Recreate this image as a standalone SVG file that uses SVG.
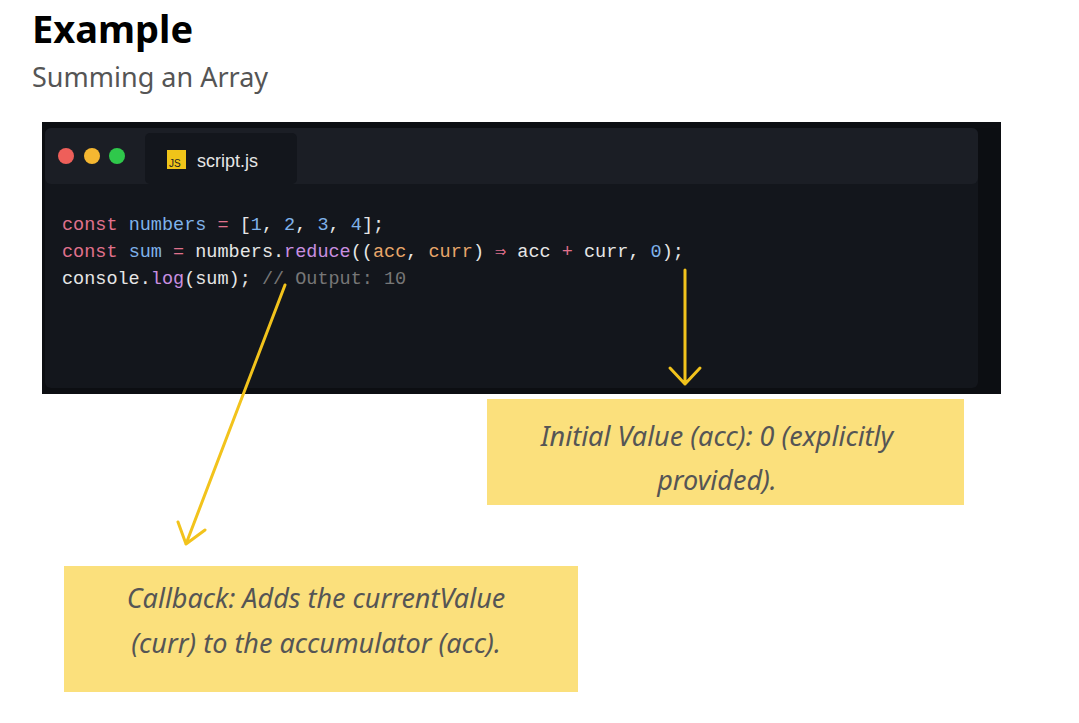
<svg xmlns="http://www.w3.org/2000/svg" width="1079" height="723" viewBox="0 0 1079 723">
<style>
.c{font-family:"Liberation Mono",monospace;font-size:18.5px}
.lbl{font-family:"Noto Sans","Open Sans",sans-serif;font-style:italic;font-size:27px;fill:#555}
.box{fill:#fbe07c}
.arr{stroke:#f2c31c;stroke-width:3;fill:none;stroke-linecap:round;stroke-linejoin:round}
</style>
<rect width="1079" height="723" fill="#fff"/>
<text x="32" y="43" font-family="Noto Sans,sans-serif" font-weight="bold" font-size="38" fill="#000">Example</text>
<text x="32" y="87" font-family="Noto Sans,sans-serif" font-size="27" fill="#555">Summing an Array</text>
<g id="editor">
<rect x="42" y="122" width="959" height="272" fill="#0c0e12"/>
<rect x="45" y="128" width="933" height="260" rx="6" fill="#13161c"/>
<rect x="45" y="128" width="933" height="56" rx="6" fill="#1b1e25"/>
<rect x="145" y="133" width="152" height="51" rx="5" fill="#13161c"/>
<circle cx="66" cy="156" r="8" fill="#ee5f5a"/>
<circle cx="92" cy="156" r="8" fill="#f5b731"/>
<circle cx="117" cy="156" r="8" fill="#2fc84b"/>
<rect x="167" y="150" width="19" height="19" fill="#f0c419"/>
<text x="169" y="167" font-family="Liberation Sans,sans-serif" font-size="10" fill="#222">JS</text>
<text x="197" y="167" font-family="Liberation Sans,sans-serif" font-size="18" fill="#e6e6e6">script.js</text>
<text class="c" x="62" y="230" xml:space="preserve"><tspan fill="#e0718c">const</tspan> <tspan fill="#7fb2ea">numbers</tspan> <tspan fill="#e0718c">=</tspan> <tspan fill="#e6e6e6">[</tspan><tspan fill="#7fb2ea">1</tspan><tspan fill="#e6e6e6">, </tspan><tspan fill="#7fb2ea">2</tspan><tspan fill="#e6e6e6">, </tspan><tspan fill="#7fb2ea">3</tspan><tspan fill="#e6e6e6">, </tspan><tspan fill="#7fb2ea">4</tspan><tspan fill="#e6e6e6">];</tspan></text>
<text class="c" x="62" y="257" xml:space="preserve"><tspan fill="#e0718c">const</tspan> <tspan fill="#7fb2ea">sum</tspan> <tspan fill="#e0718c">=</tspan> <tspan fill="#e6e6e6">numbers.</tspan><tspan fill="#c98fe0">reduce</tspan><tspan fill="#e6e6e6">((</tspan><tspan fill="#e8a66a">acc</tspan><tspan fill="#e6e6e6">, </tspan><tspan fill="#e8a66a">curr</tspan><tspan fill="#e6e6e6">) </tspan><tspan fill="#e0718c">⇒</tspan><tspan fill="#e6e6e6"> acc </tspan><tspan fill="#e0718c">+</tspan><tspan fill="#e6e6e6"> curr, </tspan><tspan fill="#7fb2ea">0</tspan><tspan fill="#e6e6e6">);</tspan></text>
<text class="c" x="62" y="284" xml:space="preserve"><tspan fill="#e6e6e6">console.</tspan><tspan fill="#c98fe0">log</tspan><tspan fill="#e6e6e6">(sum);</tspan> <tspan fill="#777">// Output: 10</tspan></text>
</g>
<g id="connectors">
<path class="arr" d="M285 285 L186 544 M178 522 L186 544 L205 530"/>
<path class="arr" d="M685 270 L685 384 M670 368 L685 384 L700 368"/>
</g>
<g id="initial">
<rect class="box" x="487" y="399" width="477" height="106"/>
<text class="lbl" x="717" y="446" text-anchor="middle">Initial Value (acc): 0 (explicitly</text>
<text class="lbl" x="717" y="490" text-anchor="middle">provided).</text>
</g>
<g id="callback">
<rect class="box" x="64" y="566" width="514" height="126"/>
<text class="lbl" x="316" y="608" text-anchor="middle">Callback: Adds the currentValue</text>
<text class="lbl" x="316" y="653" text-anchor="middle">(curr) to the accumulator (acc).</text>
</g>
</svg>
